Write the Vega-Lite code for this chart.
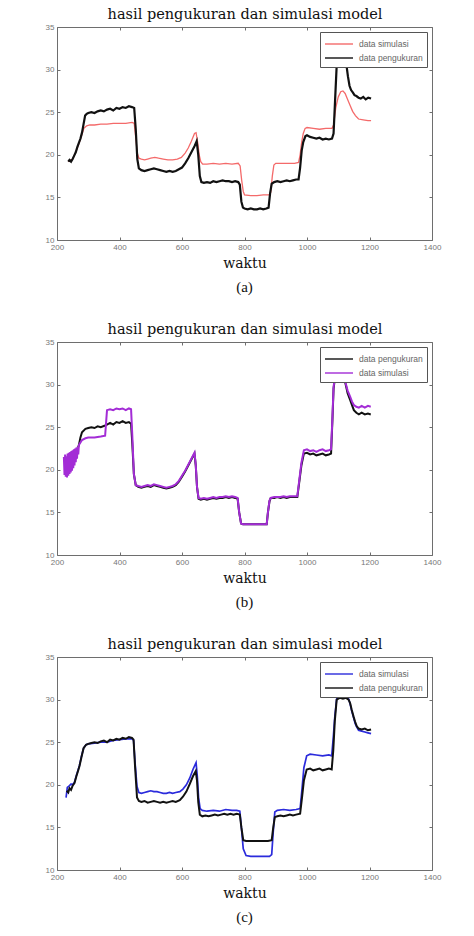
{
 "$schema": "https://vega.github.io/schema/vega-lite/v6.json",
 "background": "white",
 "padding": {"left": 44, "top": 6, "right": 8, "bottom": 0},
 "spacing": 25,
 "config": {
  "view": {"stroke": "#6e6e6e", "strokeWidth": 1},
  "axis": {"grid": false, "domain": false, "tickColor": "#6e6e6e", "tickSize": -3, "labelFont": "Liberation Sans", "labelFontSize": 8, "labelColor": "#777777", "labelPadding": 6, "labelFlush": false, "labelOverlap": false, "format": "d", "titleFont": "DejaVu Serif", "titleFontWeight": "normal", "titleColor": "#111111"},
  "title": {"font": "Liberation Serif", "fontSize": 15, "fontWeight": "normal", "color": "#111111"},
  "legend": {"orient": "top-right", "offset": 5, "padding": 4, "strokeColor": "#555555", "fillColor": "white", "symbolType": "M-1,0H3", "symbolSize": 196, "symbolStrokeWidth": 1.4, "labelOffset": 19, "labelFont": "Liberation Sans", "labelFontSize": 8.5, "labelColor": "#666666", "rowPadding": 1, "cornerRadius": 0}
 },
 "resolve": {"scale": {"color": "independent"}, "legend": {"color": "independent"}},
 "datasets": {
  "a_sim": [
   {"t":236,"v":19.2},{"t":240,"v":19.3},{"t":250,"v":19.5},{"t":260,"v":20.3},{"t":270,"v":21.3},{"t":280,"v":22.4},{"t":286,"v":23.1},{"t":295,"v":23.4},{"t":305,"v":23.5},{"t":320,"v":23.5},{"t":340,"v":23.6},{"t":360,"v":23.6},{"t":380,"v":23.7},{"t":400,"v":23.7},{"t":420,"v":23.7},{"t":440,"v":23.8},{"t":447,"v":23.7},{"t":452,"v":22.0},{"t":457,"v":20.2},{"t":462,"v":19.6},{"t":470,"v":19.5},{"t":480,"v":19.4},{"t":490,"v":19.5},{"t":500,"v":19.6},{"t":513,"v":19.7},{"t":525,"v":19.6},{"t":540,"v":19.5},{"t":555,"v":19.4},{"t":570,"v":19.4},{"t":585,"v":19.5},{"t":598,"v":19.7},{"t":610,"v":20.2},{"t":620,"v":20.8},{"t":630,"v":21.6},{"t":640,"v":22.5},{"t":645,"v":22.6},{"t":650,"v":21.5},{"t":655,"v":20.0},{"t":660,"v":19.2},{"t":666,"v":18.9},{"t":680,"v":18.9},{"t":700,"v":19.0},{"t":720,"v":18.9},{"t":740,"v":19.0},{"t":760,"v":18.9},{"t":780,"v":19.0},{"t":786,"v":18.7},{"t":791,"v":17.0},{"t":796,"v":15.7},{"t":800,"v":15.3},{"t":820,"v":15.2},{"t":840,"v":15.2},{"t":860,"v":15.3},{"t":880,"v":15.3},{"t":884,"v":15.6},{"t":889,"v":17.5},{"t":894,"v":18.8},{"t":900,"v":19.0},{"t":920,"v":19.0},{"t":940,"v":19.0},{"t":960,"v":19.0},{"t":973,"v":19.1},{"t":978,"v":20.0},{"t":983,"v":21.5},{"t":988,"v":22.5},{"t":994,"v":23.1},{"t":1000,"v":23.2},{"t":1020,"v":23.1},{"t":1040,"v":23.0},{"t":1060,"v":23.1},{"t":1080,"v":23.1},{"t":1085,"v":23.5},{"t":1092,"v":25.5},{"t":1100,"v":26.8},{"t":1108,"v":27.4},{"t":1115,"v":27.5},{"t":1122,"v":27.2},{"t":1130,"v":26.5},{"t":1138,"v":25.8},{"t":1146,"v":25.1},{"t":1155,"v":24.6},{"t":1165,"v":24.2},{"t":1180,"v":24.1},{"t":1195,"v":24.0},{"t":1205,"v":24.0}
  ],
  "a_ukur": [
   {"t":236,"v":19.2},{"t":240,"v":19.4},{"t":245,"v":19.2},{"t":250,"v":19.5},{"t":255,"v":19.9},{"t":260,"v":20.3},{"t":265,"v":20.9},{"t":270,"v":21.4},{"t":275,"v":21.9},{"t":280,"v":22.6},{"t":285,"v":23.6},{"t":290,"v":24.6},{"t":295,"v":24.8},{"t":300,"v":24.9},{"t":310,"v":25.0},{"t":320,"v":24.9},{"t":330,"v":25.1},{"t":340,"v":25.2},{"t":350,"v":25.1},{"t":360,"v":25.3},{"t":370,"v":25.4},{"t":380,"v":25.2},{"t":390,"v":25.5},{"t":400,"v":25.4},{"t":410,"v":25.6},{"t":420,"v":25.5},{"t":430,"v":25.7},{"t":440,"v":25.6},{"t":447,"v":25.5},{"t":452,"v":23.0},{"t":457,"v":19.5},{"t":462,"v":18.4},{"t":470,"v":18.2},{"t":480,"v":18.1},{"t":490,"v":18.2},{"t":500,"v":18.3},{"t":510,"v":18.4},{"t":520,"v":18.3},{"t":530,"v":18.2},{"t":540,"v":18.1},{"t":550,"v":18.0},{"t":560,"v":18.1},{"t":570,"v":18.0},{"t":580,"v":18.1},{"t":590,"v":18.3},{"t":600,"v":18.5},{"t":610,"v":19.0},{"t":620,"v":19.6},{"t":630,"v":20.3},{"t":640,"v":21.0},{"t":647,"v":21.6},{"t":652,"v":20.0},{"t":657,"v":17.5},{"t":662,"v":16.8},{"t":670,"v":16.7},{"t":680,"v":16.8},{"t":690,"v":16.7},{"t":700,"v":16.9},{"t":710,"v":16.8},{"t":720,"v":16.9},{"t":730,"v":17.0},{"t":740,"v":16.9},{"t":750,"v":16.9},{"t":760,"v":16.8},{"t":770,"v":16.9},{"t":780,"v":16.8},{"t":785,"v":16.5},{"t":790,"v":14.5},{"t":795,"v":13.8},{"t":800,"v":13.7},{"t":810,"v":13.6},{"t":820,"v":13.7},{"t":830,"v":13.6},{"t":840,"v":13.6},{"t":850,"v":13.7},{"t":860,"v":13.6},{"t":870,"v":13.7},{"t":877,"v":13.8},{"t":882,"v":15.5},{"t":887,"v":16.6},{"t":895,"v":16.8},{"t":905,"v":16.9},{"t":915,"v":16.8},{"t":925,"v":16.9},{"t":935,"v":17.0},{"t":945,"v":16.9},{"t":955,"v":17.0},{"t":965,"v":17.1},{"t":973,"v":17.1},{"t":978,"v":18.5},{"t":983,"v":20.5},{"t":988,"v":21.5},{"t":995,"v":22.2},{"t":1000,"v":22.3},{"t":1010,"v":22.1},{"t":1020,"v":22.0},{"t":1030,"v":21.9},{"t":1040,"v":22.0},{"t":1050,"v":21.8},{"t":1060,"v":21.9},{"t":1070,"v":21.8},{"t":1080,"v":21.9},{"t":1085,"v":22.5},{"t":1090,"v":26.5},{"t":1095,"v":30.5},{"t":1100,"v":31.5},{"t":1110,"v":31.8},{"t":1120,"v":31.5},{"t":1126,"v":30.6},{"t":1131,"v":29.2},{"t":1136,"v":28.1},{"t":1141,"v":27.6},{"t":1147,"v":27.3},{"t":1152,"v":27.0},{"t":1158,"v":26.9},{"t":1165,"v":26.7},{"t":1172,"v":26.6},{"t":1180,"v":26.8},{"t":1188,"v":26.5},{"t":1196,"v":26.7},{"t":1205,"v":26.6}
  ],
  "b_ukur": [
   {"t":235,"v":19.8},{"t":240,"v":20.3},{"t":250,"v":21.0},{"t":260,"v":21.8},{"t":270,"v":22.9},{"t":275,"v":23.8},{"t":280,"v":24.4},{"t":291,"v":24.8},{"t":300,"v":24.9},{"t":310,"v":25.0},{"t":320,"v":24.9},{"t":330,"v":25.1},{"t":340,"v":25.0},{"t":354,"v":25.2},{"t":360,"v":25.3},{"t":370,"v":25.5},{"t":380,"v":25.3},{"t":390,"v":25.6},{"t":400,"v":25.5},{"t":410,"v":25.7},{"t":420,"v":25.5},{"t":430,"v":25.6},{"t":437,"v":25.4},{"t":441,"v":23.0},{"t":446,"v":19.5},{"t":452,"v":18.2},{"t":460,"v":18.0},{"t":470,"v":17.9},{"t":480,"v":18.0},{"t":490,"v":18.1},{"t":500,"v":18.0},{"t":510,"v":18.2},{"t":520,"v":18.1},{"t":530,"v":18.0},{"t":540,"v":17.9},{"t":550,"v":17.8},{"t":560,"v":17.9},{"t":570,"v":18.0},{"t":580,"v":18.2},{"t":590,"v":18.6},{"t":600,"v":19.2},{"t":610,"v":19.8},{"t":620,"v":20.5},{"t":630,"v":21.2},{"t":640,"v":21.9},{"t":644,"v":20.5},{"t":648,"v":18.0},{"t":653,"v":16.6},{"t":660,"v":16.5},{"t":670,"v":16.6},{"t":680,"v":16.5},{"t":690,"v":16.6},{"t":700,"v":16.7},{"t":710,"v":16.6},{"t":720,"v":16.7},{"t":730,"v":16.7},{"t":740,"v":16.8},{"t":750,"v":16.7},{"t":760,"v":16.8},{"t":770,"v":16.7},{"t":778,"v":16.6},{"t":783,"v":15.0},{"t":789,"v":13.7},{"t":795,"v":13.6},{"t":810,"v":13.6},{"t":825,"v":13.6},{"t":840,"v":13.6},{"t":855,"v":13.6},{"t":871,"v":13.6},{"t":875,"v":15.0},{"t":880,"v":16.3},{"t":884,"v":16.7},{"t":895,"v":16.7},{"t":905,"v":16.8},{"t":915,"v":16.7},{"t":925,"v":16.8},{"t":935,"v":16.7},{"t":945,"v":16.8},{"t":955,"v":16.8},{"t":969,"v":16.8},{"t":975,"v":18.5},{"t":982,"v":20.5},{"t":990,"v":21.9},{"t":1000,"v":22.0},{"t":1010,"v":21.8},{"t":1020,"v":21.9},{"t":1030,"v":21.7},{"t":1040,"v":21.8},{"t":1050,"v":21.9},{"t":1060,"v":21.7},{"t":1070,"v":21.8},{"t":1077,"v":21.9},{"t":1081,"v":25.5},{"t":1085,"v":29.5},{"t":1090,"v":31.0},{"t":1100,"v":31.3},{"t":1110,"v":31.2},{"t":1118,"v":30.8},{"t":1122,"v":30.3},{"t":1130,"v":29.0},{"t":1138,"v":28.2},{"t":1144,"v":27.6},{"t":1150,"v":27.0},{"t":1158,"v":26.7},{"t":1166,"v":26.5},{"t":1175,"v":26.7},{"t":1185,"v":26.5},{"t":1195,"v":26.6},{"t":1204,"v":26.5}
  ],
  "b_sim": [
   {"t":222,"v":21.5},{"t":224,"v":19.4},{"t":226,"v":21.8},{"t":228,"v":19.2},{"t":230,"v":21.6},{"t":232,"v":19.1},{"t":234,"v":21.9},{"t":236,"v":19.3},{"t":238,"v":22.0},{"t":240,"v":19.5},{"t":242,"v":22.1},{"t":244,"v":19.7},{"t":246,"v":22.2},{"t":248,"v":19.9},{"t":250,"v":22.3},{"t":252,"v":20.2},{"t":254,"v":22.4},{"t":256,"v":20.5},{"t":258,"v":22.5},{"t":260,"v":20.9},{"t":262,"v":22.6},{"t":264,"v":21.3},{"t":266,"v":22.7},{"t":268,"v":21.8},{"t":270,"v":22.9},{"t":275,"v":23.2},{"t":280,"v":23.5},{"t":291,"v":23.7},{"t":300,"v":23.8},{"t":320,"v":23.8},{"t":340,"v":23.9},{"t":354,"v":24.0},{"t":357,"v":25.5},{"t":360,"v":27.0},{"t":370,"v":27.1},{"t":380,"v":27.0},{"t":390,"v":27.2},{"t":400,"v":27.1},{"t":410,"v":27.2},{"t":420,"v":27.0},{"t":430,"v":27.2},{"t":437,"v":27.1},{"t":441,"v":24.0},{"t":446,"v":19.5},{"t":452,"v":18.2},{"t":460,"v":18.1},{"t":470,"v":18.0},{"t":480,"v":18.1},{"t":490,"v":18.2},{"t":500,"v":18.1},{"t":510,"v":18.3},{"t":520,"v":18.2},{"t":530,"v":18.1},{"t":540,"v":18.0},{"t":550,"v":17.9},{"t":560,"v":18.0},{"t":570,"v":18.1},{"t":580,"v":18.3},{"t":590,"v":18.7},{"t":600,"v":19.3},{"t":610,"v":19.9},{"t":620,"v":20.6},{"t":630,"v":21.3},{"t":640,"v":22.0},{"t":644,"v":20.6},{"t":648,"v":18.0},{"t":653,"v":16.7},{"t":660,"v":16.6},{"t":670,"v":16.7},{"t":680,"v":16.6},{"t":690,"v":16.7},{"t":700,"v":16.8},{"t":710,"v":16.7},{"t":720,"v":16.8},{"t":730,"v":16.8},{"t":740,"v":16.9},{"t":750,"v":16.8},{"t":760,"v":16.9},{"t":770,"v":16.8},{"t":778,"v":16.7},{"t":783,"v":15.0},{"t":789,"v":13.7},{"t":795,"v":13.6},{"t":810,"v":13.6},{"t":825,"v":13.6},{"t":840,"v":13.6},{"t":855,"v":13.6},{"t":871,"v":13.6},{"t":875,"v":15.0},{"t":880,"v":16.4},{"t":884,"v":16.7},{"t":895,"v":16.8},{"t":905,"v":16.8},{"t":915,"v":16.8},{"t":925,"v":16.9},{"t":935,"v":16.8},{"t":945,"v":16.9},{"t":955,"v":16.9},{"t":969,"v":16.9},{"t":975,"v":18.7},{"t":982,"v":20.8},{"t":990,"v":22.3},{"t":1000,"v":22.4},{"t":1010,"v":22.2},{"t":1020,"v":22.3},{"t":1030,"v":22.1},{"t":1040,"v":22.3},{"t":1050,"v":22.4},{"t":1060,"v":22.2},{"t":1070,"v":22.3},{"t":1077,"v":22.4},{"t":1081,"v":25.8},{"t":1085,"v":29.7},{"t":1090,"v":31.1},{"t":1100,"v":31.4},{"t":1110,"v":31.3},{"t":1118,"v":30.9},{"t":1122,"v":30.4},{"t":1130,"v":29.3},{"t":1138,"v":28.6},{"t":1144,"v":28.0},{"t":1150,"v":27.6},{"t":1158,"v":27.4},{"t":1166,"v":27.3},{"t":1175,"v":27.5},{"t":1185,"v":27.3},{"t":1195,"v":27.5},{"t":1204,"v":27.4}
  ],
  "c_sim": [
   {"t":229,"v":18.5},{"t":233,"v":19.7},{"t":240,"v":19.9},{"t":245,"v":20.1},{"t":250,"v":20.0},{"t":256,"v":20.3},{"t":262,"v":21.1},{"t":268,"v":21.8},{"t":272,"v":22.3},{"t":278,"v":23.3},{"t":285,"v":24.3},{"t":293,"v":24.7},{"t":300,"v":24.8},{"t":320,"v":24.9},{"t":340,"v":25.0},{"t":360,"v":25.0},{"t":380,"v":25.2},{"t":400,"v":25.3},{"t":420,"v":25.4},{"t":440,"v":25.4},{"t":445,"v":25.2},{"t":450,"v":22.5},{"t":456,"v":19.8},{"t":462,"v":19.1},{"t":470,"v":19.0},{"t":480,"v":19.1},{"t":490,"v":19.2},{"t":500,"v":19.3},{"t":510,"v":19.2},{"t":520,"v":19.2},{"t":530,"v":19.1},{"t":540,"v":19.0},{"t":550,"v":19.0},{"t":560,"v":19.1},{"t":570,"v":19.0},{"t":580,"v":19.1},{"t":593,"v":19.2},{"t":603,"v":19.5},{"t":614,"v":20.0},{"t":625,"v":20.8},{"t":635,"v":21.8},{"t":645,"v":22.6},{"t":649,"v":21.0},{"t":653,"v":18.5},{"t":658,"v":17.2},{"t":665,"v":17.0},{"t":680,"v":16.9},{"t":700,"v":17.0},{"t":720,"v":16.9},{"t":740,"v":17.1},{"t":760,"v":17.0},{"t":775,"v":17.0},{"t":785,"v":16.9},{"t":790,"v":15.0},{"t":796,"v":12.5},{"t":805,"v":11.7},{"t":820,"v":11.6},{"t":840,"v":11.6},{"t":860,"v":11.6},{"t":880,"v":11.6},{"t":887,"v":11.8},{"t":892,"v":14.5},{"t":897,"v":16.8},{"t":905,"v":17.0},{"t":925,"v":17.1},{"t":945,"v":17.0},{"t":965,"v":17.1},{"t":978,"v":17.2},{"t":984,"v":19.5},{"t":990,"v":22.0},{"t":999,"v":23.4},{"t":1010,"v":23.6},{"t":1030,"v":23.5},{"t":1050,"v":23.4},{"t":1070,"v":23.5},{"t":1079,"v":23.4},{"t":1084,"v":25.5},{"t":1089,"v":28.0},{"t":1095,"v":30.1},{"t":1105,"v":30.3},{"t":1115,"v":30.2},{"t":1125,"v":30.3},{"t":1133,"v":30.1},{"t":1138,"v":29.5},{"t":1143,"v":28.7},{"t":1149,"v":27.9},{"t":1154,"v":27.2},{"t":1159,"v":26.8},{"t":1165,"v":26.4},{"t":1175,"v":26.3},{"t":1185,"v":26.2},{"t":1195,"v":26.1},{"t":1205,"v":26.0}
  ],
  "c_ukur": [
   {"t":231,"v":19.3},{"t":236,"v":19.1},{"t":240,"v":19.6},{"t":245,"v":19.4},{"t":250,"v":19.9},{"t":256,"v":20.2},{"t":262,"v":21.0},{"t":268,"v":21.7},{"t":272,"v":22.2},{"t":278,"v":23.2},{"t":285,"v":24.3},{"t":293,"v":24.7},{"t":300,"v":24.8},{"t":310,"v":24.9},{"t":320,"v":25.0},{"t":330,"v":24.9},{"t":340,"v":25.1},{"t":350,"v":25.2},{"t":360,"v":25.0},{"t":370,"v":25.3},{"t":380,"v":25.2},{"t":390,"v":25.4},{"t":400,"v":25.3},{"t":410,"v":25.5},{"t":420,"v":25.4},{"t":430,"v":25.6},{"t":440,"v":25.5},{"t":445,"v":25.3},{"t":450,"v":22.0},{"t":456,"v":18.5},{"t":462,"v":18.1},{"t":470,"v":18.0},{"t":480,"v":18.1},{"t":490,"v":17.9},{"t":500,"v":18.0},{"t":510,"v":18.1},{"t":520,"v":18.0},{"t":530,"v":17.9},{"t":540,"v":18.0},{"t":550,"v":17.9},{"t":560,"v":18.0},{"t":570,"v":18.1},{"t":580,"v":18.0},{"t":593,"v":18.2},{"t":603,"v":18.6},{"t":614,"v":19.2},{"t":625,"v":20.1},{"t":635,"v":21.0},{"t":644,"v":21.6},{"t":648,"v":20.5},{"t":652,"v":18.0},{"t":657,"v":16.5},{"t":665,"v":16.3},{"t":675,"v":16.4},{"t":685,"v":16.3},{"t":695,"v":16.4},{"t":705,"v":16.5},{"t":715,"v":16.4},{"t":725,"v":16.5},{"t":735,"v":16.6},{"t":745,"v":16.5},{"t":755,"v":16.6},{"t":765,"v":16.5},{"t":775,"v":16.6},{"t":785,"v":16.5},{"t":790,"v":15.0},{"t":796,"v":13.5},{"t":805,"v":13.4},{"t":815,"v":13.4},{"t":825,"v":13.4},{"t":835,"v":13.4},{"t":845,"v":13.4},{"t":855,"v":13.4},{"t":865,"v":13.4},{"t":875,"v":13.4},{"t":887,"v":13.5},{"t":892,"v":15.0},{"t":897,"v":16.2},{"t":905,"v":16.3},{"t":915,"v":16.4},{"t":925,"v":16.3},{"t":935,"v":16.4},{"t":945,"v":16.5},{"t":955,"v":16.4},{"t":965,"v":16.5},{"t":978,"v":16.6},{"t":984,"v":18.5},{"t":990,"v":20.5},{"t":999,"v":21.8},{"t":1010,"v":21.9},{"t":1020,"v":21.7},{"t":1030,"v":21.8},{"t":1040,"v":21.9},{"t":1050,"v":21.7},{"t":1060,"v":21.8},{"t":1070,"v":21.9},{"t":1079,"v":21.8},{"t":1084,"v":24.0},{"t":1089,"v":27.5},{"t":1095,"v":30.0},{"t":1105,"v":30.2},{"t":1115,"v":30.1},{"t":1125,"v":30.2},{"t":1133,"v":30.0},{"t":1138,"v":29.6},{"t":1143,"v":28.8},{"t":1149,"v":28.0},{"t":1154,"v":27.4},{"t":1159,"v":26.9},{"t":1165,"v":26.6},{"t":1175,"v":26.5},{"t":1185,"v":26.6},{"t":1195,"v":26.4},{"t":1205,"v":26.5}
  ]
 },
 "vconcat": [
  {
   "title": {"text": "(a)", "orient": "bottom", "offset": 10},
   "width": 375, "height": 213,
   "resolve": {"axis": {"x": "independent", "y": "independent"}},
   "layer": [
    {"data": {"name": "a_sim"}, "mark": {"type": "line", "strokeWidth": 1.3},
     "encoding": {
      "x": {"field": "t", "type": "quantitative", "scale": {"domain": [200, 1400]}, "axis": {"orient": "bottom", "values": [200,400,600,800,1000,1200,1400], "title": "waktu", "titleFontSize": 14, "titlePadding": 5}},
      "y": {"field": "v", "type": "quantitative", "scale": {"domain": [10, 35]}, "axis": {"orient": "left", "values": [10,15,20,25,30,35], "title": null}},
      "color": {"datum": "data simulasi", "type": "nominal", "scale": {"domain": ["data simulasi", "data pengukuran"], "range": ["#f46a6a", "#111111"]}, "legend": {"title": null}}
     }},
    {"data": {"name": "a_ukur"}, "mark": {"type": "line", "strokeWidth": 2.2},
     "encoding": {
      "x": {"field": "t", "type": "quantitative", "scale": {"domain": [200, 1400]}, "axis": {"orient": "top", "values": [200,400,600,800,1000,1200,1400], "labels": false, "title": "hasil pengukuran dan simulasi model", "titleFontSize": 14.5, "titlePadding": 5}},
      "y": {"field": "v", "type": "quantitative", "scale": {"domain": [10, 35]}, "axis": {"orient": "right", "values": [10,15,20,25,30,35], "labels": false, "title": null}},
      "color": {"datum": "data pengukuran", "type": "nominal"}
     }}
   ]
  },
  {
   "title": {"text": "(b)", "orient": "bottom", "offset": 10},
   "width": 375, "height": 213,
   "resolve": {"axis": {"x": "independent", "y": "independent"}},
   "layer": [
    {"data": {"name": "b_ukur"}, "mark": {"type": "line", "strokeWidth": 2.0},
     "encoding": {
      "x": {"field": "t", "type": "quantitative", "scale": {"domain": [200, 1400]}, "axis": {"orient": "bottom", "values": [200,400,600,800,1000,1200,1400], "title": "waktu", "titleFontSize": 14, "titlePadding": 5}},
      "y": {"field": "v", "type": "quantitative", "scale": {"domain": [10, 35]}, "axis": {"orient": "left", "values": [10,15,20,25,30,35], "title": null}},
      "color": {"datum": "data pengukuran", "type": "nominal", "scale": {"domain": ["data pengukuran", "data simulasi"], "range": ["#111111", "#a32cd6"]}, "legend": {"title": null}}
     }},
    {"data": {"name": "b_sim"}, "mark": {"type": "line", "strokeWidth": 2.0},
     "encoding": {
      "x": {"field": "t", "type": "quantitative", "scale": {"domain": [200, 1400]}, "axis": {"orient": "top", "values": [200,400,600,800,1000,1200,1400], "labels": false, "title": "hasil pengukuran dan simulasi model", "titleFontSize": 14.5, "titlePadding": 5}},
      "y": {"field": "v", "type": "quantitative", "scale": {"domain": [10, 35]}, "axis": {"orient": "right", "values": [10,15,20,25,30,35], "labels": false, "title": null}},
      "color": {"datum": "data simulasi", "type": "nominal"}
     }}
   ]
  },
  {
   "title": {"text": "(c)", "orient": "bottom", "offset": 10},
   "width": 375, "height": 213,
   "resolve": {"axis": {"x": "independent", "y": "independent"}},
   "layer": [
    {"data": {"name": "c_sim"}, "mark": {"type": "line", "strokeWidth": 1.7},
     "encoding": {
      "x": {"field": "t", "type": "quantitative", "scale": {"domain": [200, 1400]}, "axis": {"orient": "bottom", "values": [200,400,600,800,1000,1200,1400], "title": "waktu", "titleFontSize": 14, "titlePadding": 5}},
      "y": {"field": "v", "type": "quantitative", "scale": {"domain": [10, 35]}, "axis": {"orient": "left", "values": [10,15,20,25,30,35], "title": null}},
      "color": {"datum": "data simulasi", "type": "nominal", "scale": {"domain": ["data simulasi", "data pengukuran"], "range": ["#2b2bdc", "#111111"]}, "legend": {"title": null}}
     }},
    {"data": {"name": "c_ukur"}, "mark": {"type": "line", "strokeWidth": 2.0},
     "encoding": {
      "x": {"field": "t", "type": "quantitative", "scale": {"domain": [200, 1400]}, "axis": {"orient": "top", "values": [200,400,600,800,1000,1200,1400], "labels": false, "title": "hasil pengukuran dan simulasi model", "titleFontSize": 14.5, "titlePadding": 5}},
      "y": {"field": "v", "type": "quantitative", "scale": {"domain": [10, 35]}, "axis": {"orient": "right", "values": [10,15,20,25,30,35], "labels": false, "title": null}},
      "color": {"datum": "data pengukuran", "type": "nominal"}
     }}
   ]
  }
 ]
}
